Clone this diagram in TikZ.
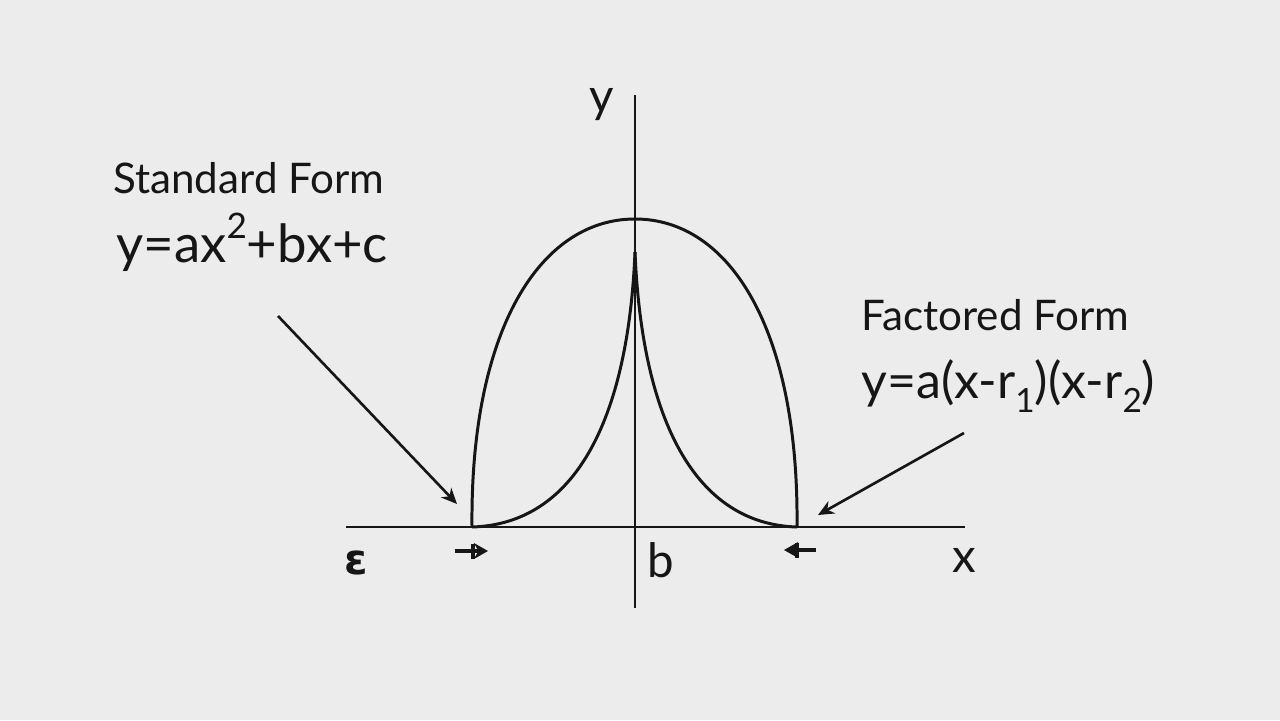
\documentclass[tikz,border=0pt]{standalone}
\usepackage{fontspec}
\setmainfont{Lato}
\newfontfamily\symfont{DejaVu Sans}
\usetikzlibrary{arrows.meta}
\definecolor{bg}{RGB}{236,236,236}
\definecolor{ink}{RGB}{22,22,22}
\newcommand{\mysub}[1]{\raisebox{-0.28em}{\fontsize{19}{19}\selectfont #1}}
\newcommand{\mysup}[1]{\raisebox{0.45em}{\fontsize{20}{20}\selectfont #1}}
\tikzset{
  axis/.style={draw=ink, line width=1.2pt},
  curve/.style={draw=ink, line width=1.7pt},
  pointer/.style={draw=ink, line width=1.5pt, -{Stealth[length=9pt,width=8pt]}},
  lbl/.style={text=ink, inner sep=0pt, font=\fontsize{24}{27}\selectfont},
  eqn/.style={text=ink, inner sep=0pt, font=\fontsize{30}{33}\selectfont},
  axlbl/.style={text=ink, inner sep=0pt, font=\fontsize{27}{30}\selectfont},
  tickmark/.style={draw=ink, line width=2pt},
}
\begin{document}
\begin{tikzpicture}[x=0.02cm,y=-0.02cm]
\fill[bg] (0,0) rectangle (1280,720);
\useasboundingbox (0,0) rectangle (1280,720);
% axes
\coordinate (xl) at (346,527);
\coordinate (xr) at (965,527);
\coordinate (yt) at (635,95);
\coordinate (yb) at (635,608);
\draw[axis] (xl) -- (xr);
\draw[axis] (yt) -- (yb);
% key points
\coordinate (r1) at (472,527);
\coordinate (r2) at (797,527);
\coordinate (top) at (635,219);
\coordinate (cusp) at (635,252);
% outer arch
\draw[curve] (r1) .. controls (470,330) and (540,219) .. (top)
                  .. controls (730,219) and (799,330) .. (r2);
% inner cusp curves
\draw[curve] (r1) .. controls (575,524) and (628,420) .. (cusp);
\draw[curve] (r2) .. controls (695,524) and (642,420) .. (cusp);
% labels
\node[lbl, anchor=base west] (sf) at (113,193) {Standard Form};
\node[eqn, anchor=base west] (se) at (116,262) {y=ax\mysup{2}+bx+c};
\node[lbl, anchor=base west] (ff) at (861,330) {Factored Form};
\node[eqn, anchor=base west, font=\fontsize{28.5}{32}\selectfont] (fe) at (861,398) {y=a(x-r\mysub{1})(x-r\mysub{2})};
\node[axlbl, anchor=base] (ylab) at (602,112) {y};
\node[axlbl, anchor=base] (xlab) at (964,572) {x};
\node[axlbl, anchor=base west] (blab) at (647,577) {b};
\node[text=ink, inner sep=0pt, font=\symfont\bfseries\fontsize{24}{26}\selectfont] (elab) at (356,563) {ε};
% pointers
\coordinate (p1s) at (278,316);
\coordinate (p1e) at (457,504);
\coordinate (p2s) at (964,433);
\coordinate (p2e) at (818,515);
\draw[pointer] (p1s) -- (p1e);
\draw[pointer] (p2s) -- (p2e);
% small tick arrows
\coordinate (t1a) at (455,551);
\coordinate (t1b) at (488,551);
\draw[tickmark, -{Stealth[length=8pt,width=9pt]}] (t1a) -- (t1b);
\draw[tickmark] (473,544) -- (473,559);
\coordinate (t2a) at (816,550);
\coordinate (t2b) at (784,550);
\draw[tickmark, -{Stealth[length=8pt,width=9pt]}] (t2a) -- (t2b);
\draw[tickmark] (797,543) -- (797,558);
\end{tikzpicture}
\end{document}
